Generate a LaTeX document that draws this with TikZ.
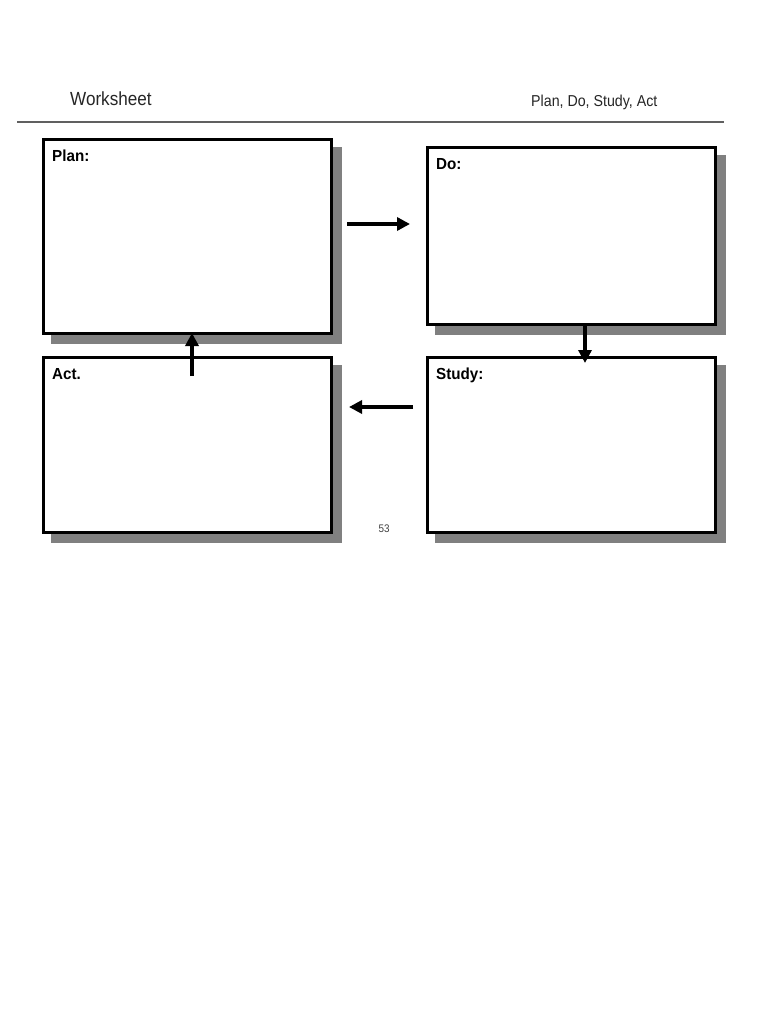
\documentclass[tikz,border=0pt]{standalone}
\usepackage{fontspec}
\setmainfont{Liberation Sans}
\newfontfamily\narrowfont[FakeStretch=0.9]{Liberation Sans}
\newfontfamily\labelfont[FakeStretch=0.95]{Liberation Sans}
\usetikzlibrary{arrows.meta,calc,backgrounds}
\definecolor{shadowgray}{HTML}{808080}
\definecolor{rulegray}{HTML}{606060}
\tikzset{
  x=1pt,y=1pt,
  pdsabox/.style={draw=black, line width=3pt, fill=white, rectangle, inner sep=0pt},
  boxlabel/.style={anchor=base west, inner sep=0pt, font=\labelfont\bfseries\fontsize{16}{18}\selectfont},
  flowarrow/.style={line width=4pt, -{Triangle[length=13pt,width=13pt]}},
  headtext/.style={anchor=base west, inner sep=0pt, text=black!85}
}
\begin{document}
\begin{tikzpicture}
\useasboundingbox (0,0) rectangle (768,-1024);

% header
\node[headtext, font=\narrowfont\fontsize{19}{21}\selectfont] (title) at (70,-106) {Worksheet};
\node[headtext, font=\narrowfont\fontsize{15.8}{18}\selectfont] (subtitle) at (531,-106.5) {Plan, Do, Study, Act};
\coordinate (ruleL) at (17,-122);
\coordinate (ruleR) at (724,-122);
\draw[rulegray, line width=1.3pt] (ruleL) -- (ruleR);

% boxes
\node[pdsabox, minimum width=288pt, minimum height=194pt] (plan) at (187.5,-236.5) {};
\node[pdsabox, minimum width=288pt, minimum height=177pt] (do) at (571.5,-236) {};
\node[pdsabox, minimum width=288pt, minimum height=175pt] (act) at (187.5,-445) {};
\node[pdsabox, minimum width=288pt, minimum height=175pt] (study) at (571.5,-445) {};

\begin{scope}[on background layer]
\fill[white] (0,0) rectangle (768,-1024);
\foreach \b in {plan,do,act,study}{
  \fill[shadowgray] ($(\b.north west)+(9,-9)$) rectangle ($(\b.south east)+(9,-9)$);
}
\end{scope}

% labels
\node[boxlabel] (planlbl) at ($(plan.north west)+(10,-23.5)$) {Plan:};
\node[boxlabel] (dolbl) at ($(do.north west)+(10,-23.5)$) {Do:};
\node[boxlabel] (actlbl) at ($(act.north west)+(10,-23.5)$) {Act.};
\node[boxlabel] (studylbl) at ($(study.north west)+(10,-23.5)$) {Study:};

% arrows
\coordinate (a1s) at (347,-224);
\coordinate (a1e) at (410,-224);
\coordinate (a2s) at (585,-323);
\coordinate (a2e) at (585,-363);
\coordinate (a3s) at (413,-407);
\coordinate (a3e) at (349,-407);
\coordinate (a4s) at (192,-376);
\coordinate (a4e) at (192,-333);
\draw[flowarrow] (a1s) -- (a1e);
\draw[flowarrow] (a2s) -- (a2e);
\draw[flowarrow] (a3s) -- (a3e);
\draw[flowarrow] (a4s) -- (a4e);

% page number
\node[inner sep=0pt, text=black!75, font=\narrowfont\fontsize{11}{12}\selectfont] (pagenum) at (384,-529) {53};
\end{tikzpicture}
\end{document}
